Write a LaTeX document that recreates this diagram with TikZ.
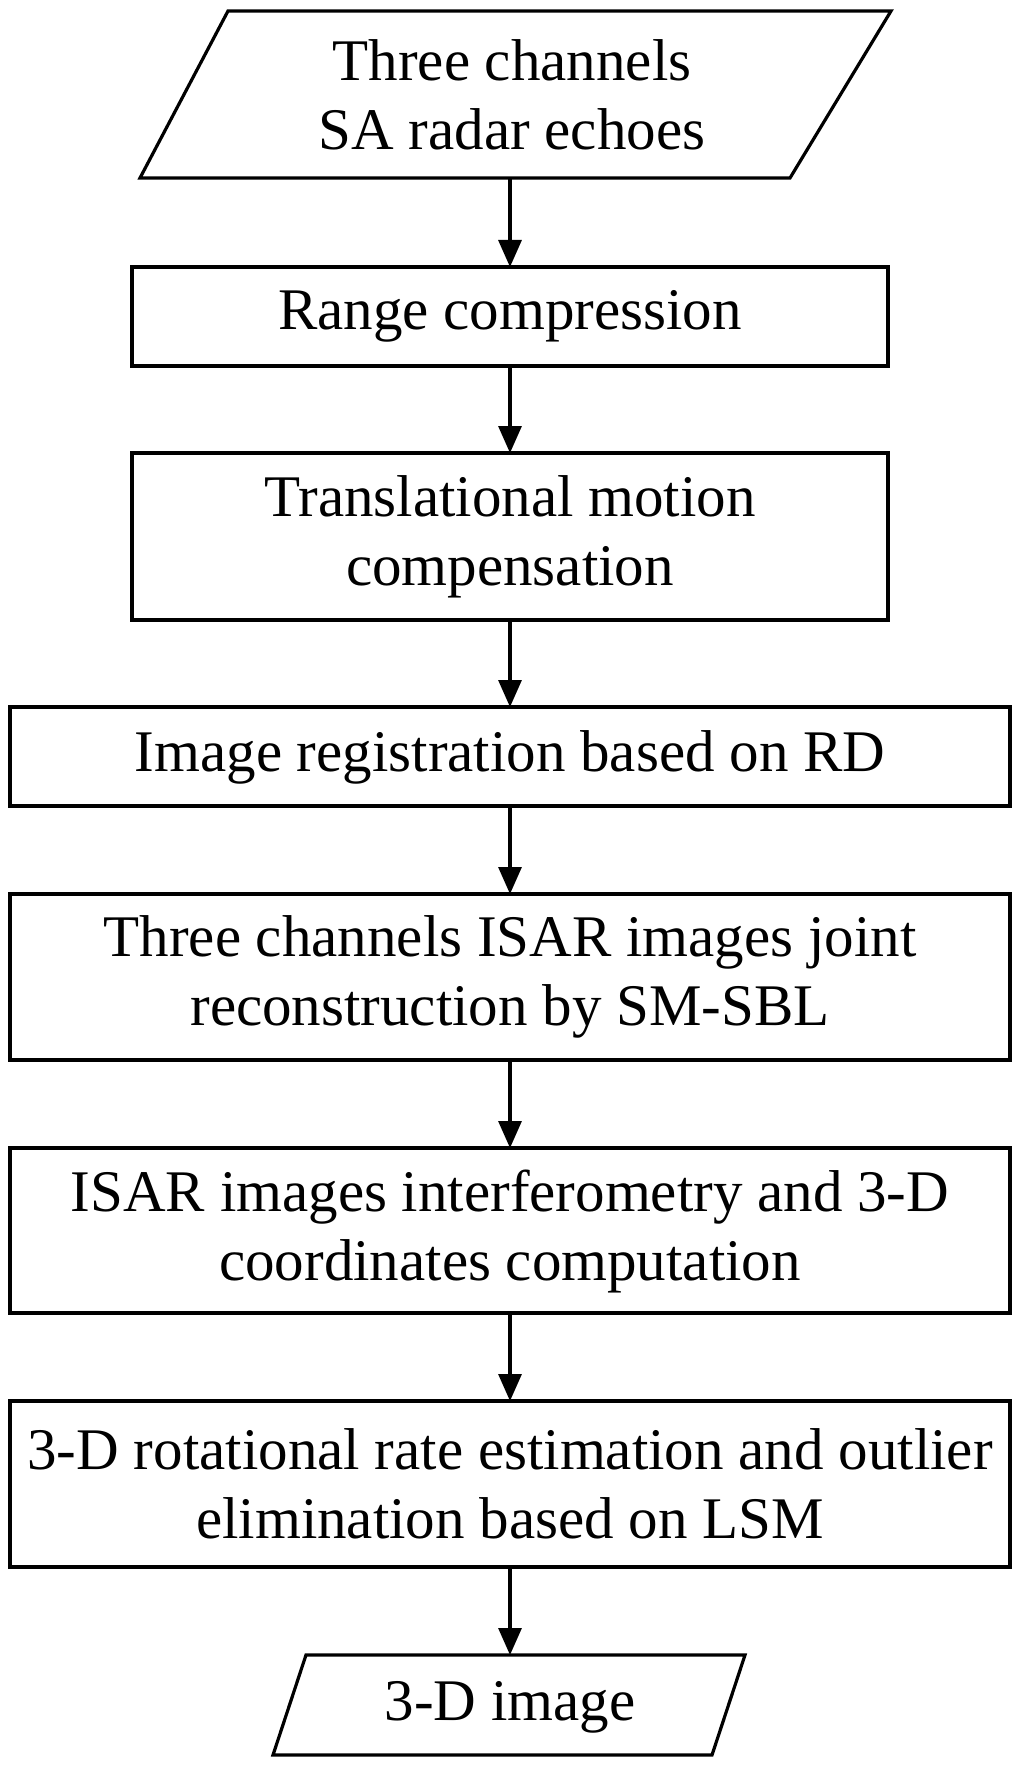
\documentclass[tikz,border=0pt]{standalone}
\usepackage{fontspec}
\setmainfont{Liberation Serif}
\usetikzlibrary{arrows.meta}
\begin{document}
\begin{tikzpicture}[x=1pt,y=-1pt,
  box/.style={draw,line width=3.2pt},
  txt/.style={align=center,font=\fontsize{59}{69}\selectfont},
  arr/.style={line width=3.2pt,-{Triangle[length=27pt,width=23pt]}}]
\useasboundingbox (0,0) rectangle (1020,1768);
\draw[box] (228,11) -- (891,11) -- (790,178) -- (140,178) -- cycle;
\node[txt] (n1) at (512,95) {Three channels\\SA radar echoes};
\draw[box] (132,267) rectangle (888,366);
\node[txt] (n2) at (510,316) {Range compression};
\draw[box] (132,453) rectangle (888,620);
\node[txt] (n3) at (510,537) {Translational motion\\compensation};
\draw[box] (10,707) rectangle (1010,806);
\node[txt] (n4) at (510,757) {Image registration based on RD};
\draw[box] (10,894) rectangle (1010,1060);
\node[txt] (n5) at (510,977) {Three channels ISAR images joint\\reconstruction by SM-SBL};
\draw[box] (10,1148) rectangle (1010,1313);
\node[txt] (n6) at (510,1231) {ISAR images interferometry and 3-D\\coordinates computation};
\draw[box] (10,1401) rectangle (1010,1567);
\node[txt] (n7) at (510,1484) {3-D rotational rate estimation and outlier\\elimination based on LSM};
\draw[box] (306,1655) -- (745,1655) -- (712,1755) -- (273,1755) -- cycle;
\node[txt] (n8) at (510,1707) {3-D image};
\coordinate (a1) at (510,178); \coordinate (b1) at (510,267);
\coordinate (a2) at (510,366); \coordinate (b2) at (510,453);
\coordinate (a3) at (510,620); \coordinate (b3) at (510,707);
\coordinate (a4) at (510,806); \coordinate (b4) at (510,894);
\coordinate (a5) at (510,1060); \coordinate (b5) at (510,1148);
\coordinate (a6) at (510,1313); \coordinate (b6) at (510,1401);
\coordinate (a7) at (510,1567); \coordinate (b7) at (510,1655);
\foreach \i in {1,...,7} \draw[arr] (a\i) -- (b\i);
\end{tikzpicture}
\end{document}
